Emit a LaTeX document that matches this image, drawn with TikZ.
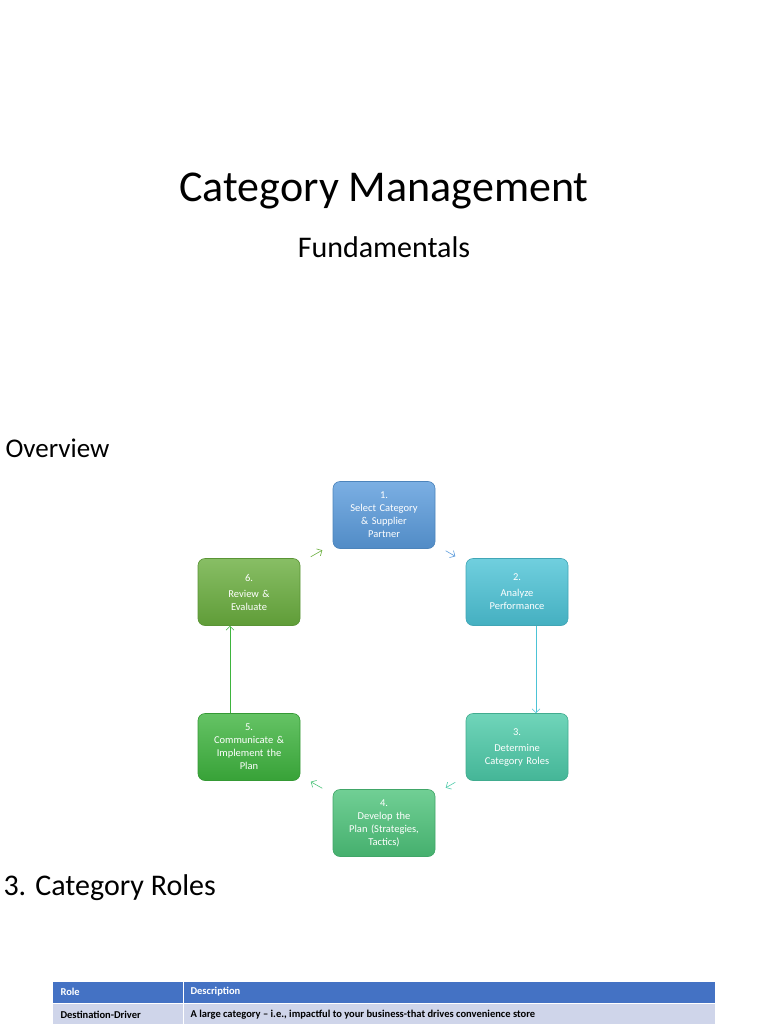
\documentclass[tikz,border=0pt]{standalone}
\usepackage{fontspec}
\setmainfont{Carlito}
\usetikzlibrary{arrows.meta,positioning}
\definecolor{boxA}{HTML}{5A9BDC}
\definecolor{boxB}{HTML}{4CC3D6}
\definecolor{boxC}{HTML}{4CCAA8}
\definecolor{boxD}{HTML}{4DC37A}
\definecolor{boxE}{HTML}{3EB43E}
\definecolor{boxF}{HTML}{6AAE3E}
\definecolor{hdrblue}{HTML}{4472C4}
\definecolor{rowlav}{HTML}{CFD5EA}
\tikzset{
  step/.style={draw=#1!85!black, line width=0.6pt, top color=#1!80!white, bottom color=#1!90!black,
    rounded corners=7pt, minimum width=102pt, minimum height=67pt, align=center,
    text=white, font=\fontsize{10.5}{13}\selectfont, text width=90pt},
  flow/.style={draw=#1, line width=0.6pt, -{Straight Barb[length=4pt]}}
}
\begin{document}
\begin{tikzpicture}[x=1pt,y=-1pt]
\useasboundingbox (0,0) rectangle (768,1024);

% titles
\node (title) at (384,191) {\fontsize{44}{48}\selectfont Category Management};
\node (sub)   at (384,247) {\fontsize{30}{34}\selectfont Fundamentals};
\node[anchor=west] (over)  at (2,448) {\fontsize{27}{30}\selectfont Overview};
\node[anchor=west] (roles) at (0,888) {\fontsize{30}{34}\selectfont 3. Category Roles};

% cycle
\node[step=boxA] (s1) at (384,515) {1.\\Select Category\\\& Supplier\\Partner};
\node[step=boxB] (s2) at (517,592) {2.\\[3pt]Analyze\\Performance};
\node[step=boxC] (s3) at (517,747) {3.\\[3pt]Determine\\Category Roles};
\node[step=boxD] (s4) at (384,823) {4.\\Develop the\\Plan (Strategies,\\Tactics)};
\node[step=boxE] (s5) at (249,747) {5.\\Communicate \&\\Implement the\\Plan};
\node[step=boxF] (s6) at (249,592) {6.\\[3pt]Review \&\\Evaluate};

\draw[flow=boxA] (s1) edge[shorten <=12pt, shorten >=12pt] (s2);
\draw[flow=boxB] ([xshift=19pt]s2.south) -- ([xshift=19pt]s3.north);
\draw[flow=boxC] (s3) edge[shorten <=12pt, shorten >=12pt] (s4);
\draw[flow=boxD] (s4) edge[shorten <=12pt, shorten >=12pt] (s5);
\draw[flow=boxE] ([xshift=-19pt]s5.north) -- ([xshift=-19pt]s6.south);
\draw[flow=boxF] (s6) edge[shorten <=12pt, shorten >=12pt] (s1);

% table
\fill[hdrblue] (53,982) rectangle (715,1003);
\fill[rowlav] (53,1003) rectangle (715,1024);
\draw[white, line width=1pt] (183,982) -- (183,1024) (53,1003) -- (715,1003);
\node[anchor=west, text=white, font=\bfseries\fontsize{10.5}{12}\selectfont] (hrole) at (57,992) {Role};
\node[anchor=west, text=white, font=\bfseries\fontsize{10.5}{12}\selectfont] (hdesc) at (187,992) {Description};
\node[anchor=west, font=\bfseries\fontsize{10.5}{12}\selectfont] (r1) at (57,1015) {Destination-Driver};
\node[anchor=west, font=\bfseries\fontsize{10.5}{12}\selectfont] (d1) at (187,1015) {A large category -- i.e., impactful to your business-that drives convenience store};
\end{tikzpicture}
\end{document}
